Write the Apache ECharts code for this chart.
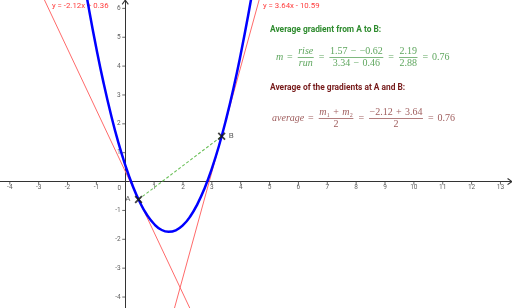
<!DOCTYPE html>
<html>
<head>
<meta charset="utf-8">
<script src="https://cdn.jsdelivr.net/npm/echarts@6/dist/echarts.min.js"></script>
<style>
html,body{margin:0;padding:0;background:#fff;}
#c{width:512px;height:308px;}
</style>
</head>
<body>
<div id="c"></div>
<script>
// ---- data ----
const xTicks = [-4,-3,-2,-1,0,1,2,3,4,5,6,7,8,9,10,11,12,13];
const yTicks = [-4,-3,-2,-1,1,2,3,4,5,6];
const curveX = [-1.5,-1.25,-1,-0.75,-0.5,-0.25,0,0.25,0.5,0.75,1,1.25,1.5,1.75,2,2.25,2.5,2.75,3,3.25,3.5,3.75,4,4.25,4.5];
const curveY = [7.38,5.93,4.61,3.41,2.34,1.39,0.57,-0.13,-0.70,-1.15,-1.47,-1.67,-1.74,-1.69,-1.51,-1.21,-0.78,-0.23,0.45,1.25,2.18,3.23,4.41,5.71,7.14];
const tangentAX = [-3.2, 2.4];
const tangentAY = [7.14, -4.73];
const tangentBX = [1.5, 4.8];
const tangentBY = [-5.13, 6.88];
const pointNames = ['A','B'];
const pointX = [0.46, 3.34];
const pointY = [-0.62, 1.57];
const gradients = [-2.12, 3.64];
const intercepts = [0.36, -10.59];

const chart = echarts.init(document.getElementById('c'), null, {renderer:'canvas'});

const zip = (xs, ys) => xs.map((x,i)=>[x, ys[i]]);
const fmt = n => (n < 0 ? '\u2212' : '') + Math.abs(n).toFixed(2);
const tanLabel = i => 'y = ' + gradients[i].toFixed(2) + 'x ' + (intercepts[i] < 0 ? '- ' : '+ ') + Math.abs(intercepts[i]).toFixed(2);

// ---- formula layout helpers ----
const ctx = document.createElement('canvas').getContext('2d');
const SERIF = '"Liberation Serif", "DejaVu Serif", serif';
const FS = 10;
function measure(text, it){
  ctx.font = (it ? 'italic ' : 'normal ') + 'normal ' + FS + 'px ' + SERIF;
  return ctx.measureText(text).width;
}
function tokW(t){ return t.g !== undefined ? t.g * FS : measure(t[0], t[1]); }
function runsWidth(runs){ return runs.reduce((s,r)=>s+tokW(r),0); }
function placeRuns(runs, x, y, color, out){
  runs.forEach(r=>{
    if (r.g === undefined){
      out.push({type:'text', x:x, y:y, silent:true, style:{text:r[0], fill:color, fontSize:FS, fontFamily:SERIF, fontStyle:r[1]?'italic':'normal', align:'left', verticalAlign:'middle'}});
    }
    x += tokW(r);
  });
}
const REL = {g:0.383}, BIN = {g:0.33};
const rel = s => ({runs:[REL,[s,0],REL]});
function layoutFormula(items, x0, yMid, color, out){
  let x = x0;
  items.forEach(it=>{
    if (it.runs){
      placeRuns(it.runs, x, yMid, color, out);
      x += runsWidth(it.runs);
    } else {
      x += 0.12 * FS;
      const wn = runsWidth(it.num), wd = runsWidth(it.den);
      const w = Math.max(wn, wd) + 1;
      placeRuns(it.num, x + (w - wn)/2, yMid - 6, color, out);
      placeRuns(it.den, x + (w - wd)/2, yMid + 6.8, color, out);
      out.push({type:'line', silent:true, shape:{x1:x, y1:yMid+0.5, x2:x+w, y2:yMid+0.5}, style:{stroke:color, lineWidth:0.8}});
      x += w + 0.12 * FS;
    }
  });
}

const rise = pointY[1] - pointY[0];
const run = pointX[1] - pointX[0];
const mVal = rise / run;
const avgVal = (gradients[0] + gradients[1]) / 2;

const graphics = [];
const G_HEAD = '#2e8b2e', G_FORM = '#5ea65e';
const R_HEAD = '#761a1a', R_FORM = '#9e5c5c';
const SANS = 'Roboto, "Liberation Sans", sans-serif';

graphics.push({type:'text', x:270, y:30, silent:true, style:{text:'Average gradient from A to B:', fill:G_HEAD, fontSize:8.4, fontWeight:'bold', fontFamily:SANS, align:'left', verticalAlign:'middle'}});
graphics.push({type:'text', x:270, y:88, silent:true, style:{text:'Average of the gradients at A and B:', fill:R_HEAD, fontSize:8.4, fontWeight:'bold', fontFamily:SANS, align:'left', verticalAlign:'middle'}});

layoutFormula([
  {runs:[['m',1]]}, rel('='),
  {num:[['rise',1]], den:[['run',1]]},
  rel('='),
  {num:[[fmt(pointY[1]),0],BIN,['\u2212',0],BIN,[fmt(pointY[0]),0]], den:[[fmt(pointX[1]),0],BIN,['\u2212',0],BIN,[fmt(pointX[0]),0]]},
  rel('='),
  {num:[[fmt(rise),0]], den:[[fmt(run),0]]},
  rel('='),
  {runs:[[fmt(mVal),0]]}
], 276, 57, G_FORM, graphics);

layoutFormula([
  {runs:[['average',1]]}, rel('='),
  {num:[['m',1],['\u2081',0],BIN,['+',0],BIN,['m',1],['\u2082',0]], den:[['2',0]]},
  rel('='),
  {num:[[fmt(gradients[0]),0],BIN,['+',0],BIN,[fmt(gradients[1]),0]], den:[['2',0]]},
  rel('='),
  {runs:[[fmt(avgVal),0]]}
], 272, 118, R_FORM, graphics);

graphics.push({type:'text', x:52, y:6, silent:true, style:{text:tanLabel(0), fill:'#ff3b3b', fontSize:7.8, fontFamily:SANS, align:'left', verticalAlign:'middle'}});
graphics.push({type:'text', x:263, y:6, silent:true, style:{text:tanLabel(1), fill:'#ff3b3b', fontSize:7.8, fontFamily:SANS, align:'left', verticalAlign:'middle'}});

const AXIS_COLOR = '#333';
const TICK_COLOR = '#444';
const CHEVRON = 'path://M5,0L10,7L8.8,8L5,2.6L1.2,8L0,7Z';
const XMARK = 'path://M0,1.6L1.6,0L5,3.4L8.4,0L10,1.6L6.6,5L10,8.4L8.4,10L5,6.6L1.6,10L0,8.4L3.4,5Z';
const CLEAR = 'rgba(0,0,0,0)';

chart.setOption({
  animation:false,
  backgroundColor:'#fff',
  grid:{left:0, right:0, top:0, bottom:0, containLabel:false, outerBoundsMode:'none'},
  xAxis:{
    type:'value', min:-4.34, max:13.4,
    axisLine:{onZero:true, lineStyle:{color:AXIS_COLOR, width:1}, symbol:['none',CHEVRON], symbolSize:[7,6], symbolOffset:[0,-2]},
    axisTick:{show:false}, axisLabel:{show:false}, splitLine:{show:false}
  },
  yAxis:{
    type:'value', min:-4.38, max:6.29,
    axisLine:{onZero:true, lineStyle:{color:AXIS_COLOR, width:1}, symbol:['none',CHEVRON], symbolSize:[7,6], symbolOffset:[0,-2]},
    axisTick:{show:false}, axisLabel:{show:false}, splitLine:{show:false}
  },
  series:[
    // x ticks + labels
    {type:'scatter', silent:true, z:1, symbol:'rect', symbolSize:[1,3], symbolOffset:[0,1.5], itemStyle:{color:TICK_COLOR},
      data:xTicks.filter(v=>v!==0).map(v=>[v,0])},
    {type:'scatter', silent:true, z:1, symbol:'circle', symbolSize:1, itemStyle:{color:CLEAR},
      label:{show:true, position:'bottom', distance:2, fontSize:6.5, color:'#333', fontFamily:SANS, formatter:p=>String(p.value[0])},
      data:xTicks.map(v=> v===0 ? {value:[v,0], label:{offset:[-6,1]}} : [v,0])},
    // y ticks + labels
    {type:'scatter', silent:true, z:1, symbol:'rect', symbolSize:[3,1], symbolOffset:[-1.5,0], itemStyle:{color:TICK_COLOR},
      data:yTicks.map(v=>[0,v])},
    {type:'scatter', silent:true, z:1, symbol:'circle', symbolSize:1, itemStyle:{color:CLEAR},
      label:{show:true, position:'left', distance:4, fontSize:6.5, color:'#333', fontFamily:SANS, formatter:p=>String(p.value[1])},
      data:yTicks.map(v=>[0,v])},
    {type:'line', data:zip(tangentAX, tangentAY), showSymbol:false, lineStyle:{color:'#ff6b6b', width:1}, z:2, silent:true},
    {type:'line', data:zip(tangentBX, tangentBY), showSymbol:false, lineStyle:{color:'#ff6b6b', width:1}, z:2, silent:true},
    {type:'line', data:zip(curveX, curveY), smooth:true, showSymbol:false, lineStyle:{color:'#0000ff', width:2.5}, z:3, silent:true},
    {type:'line', data:zip(pointX, pointY), showSymbol:false, lineStyle:{color:'#6cc05a', width:1.1, type:[3,2]}, z:4, silent:true},
    {type:'scatter', z:5, symbol:XMARK, symbolSize:8, itemStyle:{color:'#111'}, silent:true,
      data:pointNames.map((n,i)=>({name:n, value:[pointX[i], pointY[i]],
        label:{show:true, formatter:'{b}', position:i===0?'left':'right', distance:i===0?4:3, fontSize:8, color:'#333', fontFamily:SANS}}))}
  ],
  graphic:graphics
});
</script>
</body>
</html>
